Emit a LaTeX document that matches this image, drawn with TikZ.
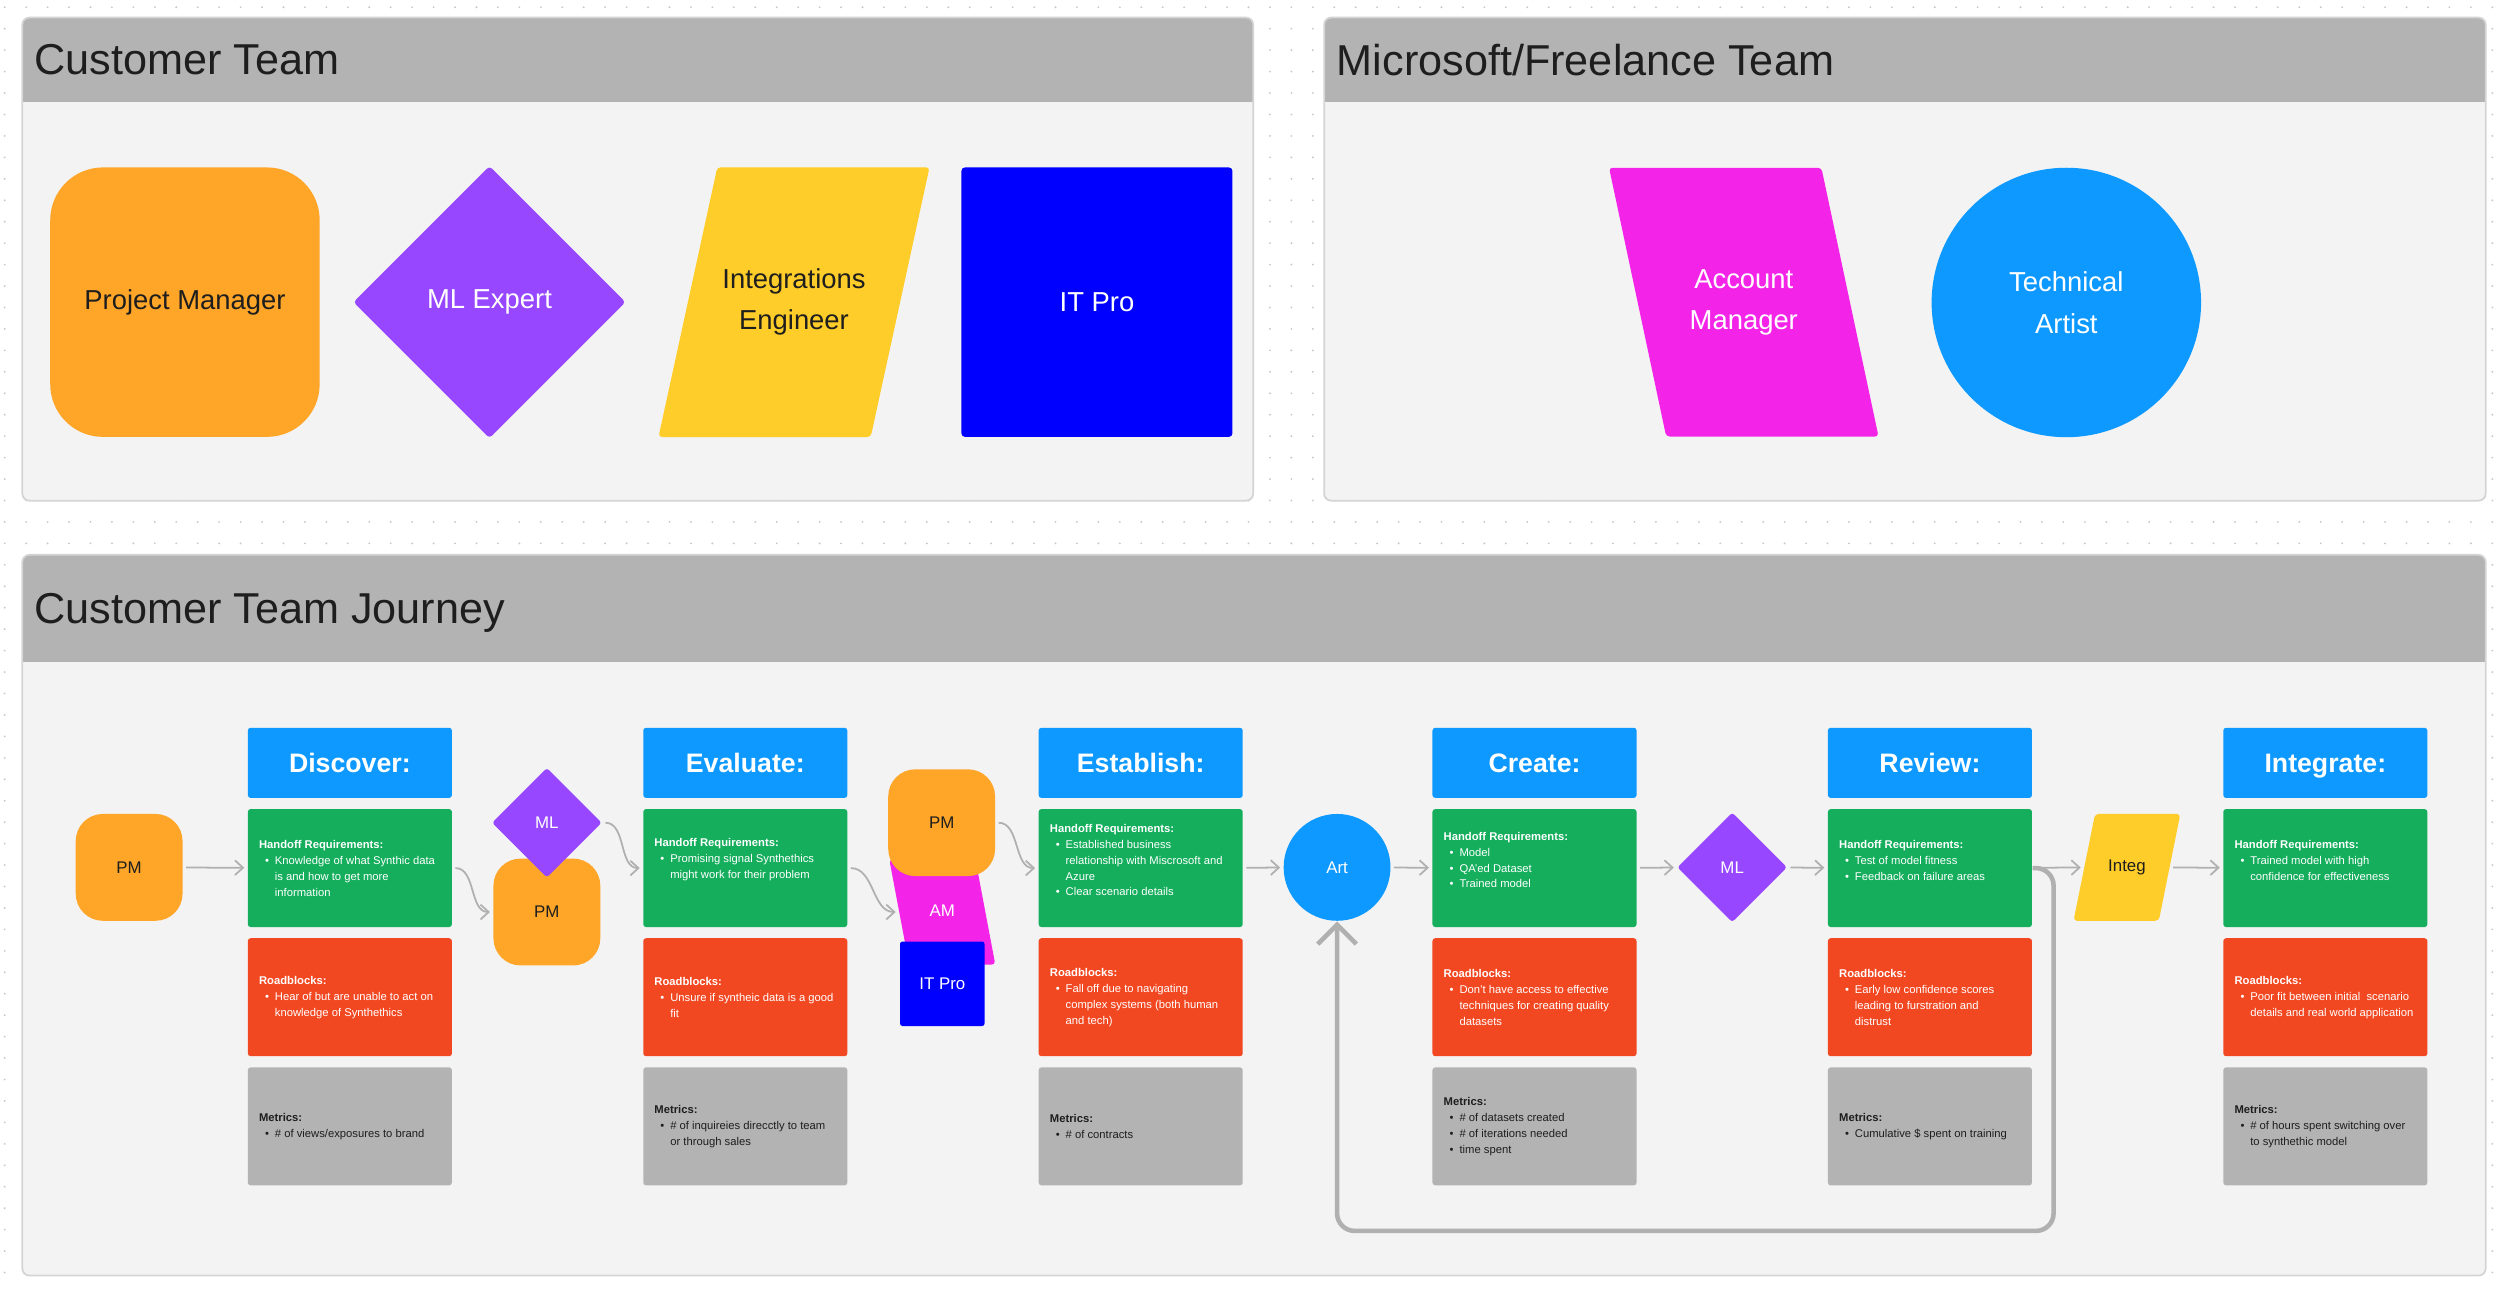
\documentclass[tikz,border=0pt]{standalone}
\usepackage{fontspec}
\setmainfont{Liberation Sans}
\usetikzlibrary{positioning,shapes.geometric,arrows.meta}

\definecolor{pmorange}{HTML}{FFA629}
\definecolor{mlpurple}{HTML}{9747FF}
\definecolor{intyellow}{HTML}{FFCD29}
\definecolor{itblue}{HTML}{0000FF}
\definecolor{ampink}{HTML}{F324E8}
\definecolor{artblue}{HTML}{0D99FF}
\definecolor{hogreen}{HTML}{14AE5C}
\definecolor{rbred}{HTML}{F24822}
\definecolor{mtgray}{HTML}{B3B3B3}
\definecolor{hdrgray}{HTML}{B3B3B3}
\definecolor{panelbg}{HTML}{F3F3F3}
\definecolor{panelline}{HTML}{D4D4D4}
\definecolor{dotgray}{HTML}{C8C8C8}
\definecolor{linegray}{HTML}{B0B0B0}
\definecolor{textdark}{HTML}{1E1E1E}

\newcommand\dpx{*0.4537pt}
\newcommand\bitem{\hspace*{1.7pt}\makebox[2.8pt][l]{\textbullet}}
\newcommand\bcont{\hspace*{4.5pt}}

\begin{document}
\begin{tikzpicture}[x=0.4537pt, y=-0.4537pt,
  title/.style={anchor=base west, inner sep=0pt, text=textdark, font=\fontsize{12.3}{14}\selectfont},
  bigshape/.style={inner sep=0pt, align=center, font=\fontsize{7.8}{11.8}\selectfont, minimum width=169\dpx, minimum height=169\dpx},
  actor/.style={inner sep=0pt, font=\fontsize{4.8}{6}\selectfont, minimum width=67\dpx, minimum height=67\dpx},
  parallel/.style={trapezium, trapezium stretches body=true, rounded corners=1pt, minimum height=0pt},
  stagehdr/.style={anchor=north west, inner sep=0pt, fill=artblue, text=white, rounded corners=0.8pt,
    font=\fontsize{7.6}{9}\selectfont\bfseries, text height=5.45pt, text depth=0pt,
    minimum width=128\dpx, minimum height=44\dpx},
  stagebox/.style={anchor=north west, inner sep=0pt, rounded corners=0.8pt, minimum width=128\dpx, minimum height=74\dpx},
  handoff/.style={stagebox, fill=hogreen},
  roadblock/.style={stagebox, fill=rbred},
  metric/.style={stagebox, fill=mtgray},
  boxtext/.style={inner sep=0pt, align=left, text=white, font=\fontsize{3.2}{4.55}\selectfont},
  flow/.style={draw=linegray, line width=0.5pt, shorten >=0.8pt, shorten <=0.8pt,
    -{Straight Barb[length=2.3pt,width=4.2pt]}},
  loopline/.style={draw=linegray, line width=1.3pt, rounded corners=5pt,
    -{Straight Barb[length=5.5pt,width=11pt]}}]

\useasboundingbox (0,0) rectangle (1568,809);
\fill[white] (0,0) rectangle (1568,809);

% dotted canvas
\foreach \j in {0,...,59}
  \fill[dotgray] \foreach \i in {0,...,116} {(2.95+13.45*\i,4.55+13.45*\j) circle (0.65)};

% panels
\foreach \xa/\ya/\xb/\yb/\yh in {14/11/786/314/64, 830.5/11/1559/314/64, 14/348/1559/800/415}{
  \fill[panelbg, rounded corners=2pt] (\xa,\ya) rectangle (\xb,\yb);
  \begin{scope}
    \clip[rounded corners=2pt] (\xa,\ya) rectangle (\xb,\yb);
    \fill[hdrgray] (\xa,\ya) rectangle (\xb,\yh);
  \end{scope}
  \draw[panelline, line width=0.5pt, rounded corners=2pt] (\xa,\ya) rectangle (\xb,\yb);
}
\node[title] (custTitle) at (21,47) {Customer Team};
\node[title] (msTitle) at (838,47.5) {Microsoft/Freelance Team};
\node[title] (journeyTitle) at (21,391) {Customer Team Journey};

% customer team
\node[bigshape, fill=pmorange, text=textdark, rounded corners=15pt] (projMgr) at (116,189.5) {Project Manager};
\node[bigshape, diamond, fill=mlpurple, text=white, rounded corners=1pt, minimum width=171\dpx, minimum height=171\dpx] (mlExpert) at (307,189.5) {ML Expert};
\node[bigshape, parallel, trapezium left angle=77.7, trapezium right angle=102.3, fill=intyellow, text=textdark,
  inner ysep=28.85pt, minimum width=170\dpx] (intEng) at (498,189.5) {Integrations\\Engineer};
\node[bigshape, fill=itblue, text=white, rounded corners=1pt, minimum width=170\dpx] (itPro) at (688,189.5) {IT Pro};

% microsoft / freelance team
\node[bigshape, parallel, trapezium left angle=102, trapezium right angle=78, fill=ampink, text=white,
  inner ysep=28.85pt, minimum width=169\dpx] (acctMgr) at (1093.7,189.5) {Account\\Manager};
\node[bigshape, circle, fill=artblue, text=white] (techArtist) at (1296,189.7) {Technical\\Artist};

% journey stages
\node[stagehdr] (discHdr) at (155,456) {Discover:};
\node[handoff] (discHO) at (155,507) {};
\node[roadblock] (discRB) at (155,588) {};
\node[metric] (discMT) at (155,669) {};

\node[stagehdr] (evalHdr) at (403,456) {Evaluate:};
\node[handoff] (evalHO) at (403,507) {};
\node[roadblock] (evalRB) at (403,588) {};
\node[metric] (evalMT) at (403,669) {};

\node[stagehdr] (estHdr) at (651,456) {Establish:};
\node[handoff] (estHO) at (651,507) {};
\node[roadblock] (estRB) at (651,588) {};
\node[metric] (estMT) at (651,669) {};

\node[stagehdr] (creHdr) at (898,456) {Create:};
\node[handoff] (creHO) at (898,507) {};
\node[roadblock] (creRB) at (898,588) {};
\node[metric] (creMT) at (898,669) {};

\node[stagehdr] (revHdr) at (1146,456) {Review:};
\node[handoff] (revHO) at (1146,507) {};
\node[roadblock] (revRB) at (1146,588) {};
\node[metric] (revMT) at (1146,669) {};

\node[stagehdr] (intHdr) at (1394,456) {Integrate:};
\node[handoff] (intHO) at (1394,507) {};
\node[roadblock] (intRB) at (1394,588) {};
\node[metric] (intMT) at (1394,669) {};

% stage texts
\node[boxtext, right=3.2pt of discHO.west] (discHOt) {\textbf{Handoff Requirements:}\\ \bitem Knowledge of what Synthic data\\ \bcont is and how to get more\\ \bcont information};
\node[boxtext, right=3.2pt of discRB.west] (discRBt) {\textbf{Roadblocks:}\\ \bitem Hear of but are unable to act on\\ \bcont knowledge of Synthethics};
\node[boxtext, text=textdark, right=3.2pt of discMT.west] (discMTt) {\textbf{Metrics:}\\ \bitem \# of views/exposures to brand};

\node[boxtext, yshift=2.3pt, right=3.2pt of evalHO.west] (evalHOt) {\textbf{Handoff Requirements:}\\ \bitem Promising signal Synthethics\\ \bcont might work for their problem};
\node[boxtext, right=3.2pt of evalRB.west] (evalRBt) {\textbf{Roadblocks:}\\ \bitem Unsure if syntheic data is a good\\ \bcont fit};
\node[boxtext, text=textdark, right=3.2pt of evalMT.west] (evalMTt) {\textbf{Metrics:}\\ \bitem \# of inquireies direcctly to team\\ \bcont or through sales};

\node[boxtext, yshift=2.3pt, right=3.2pt of estHO.west] (estHOt) {\textbf{Handoff Requirements:}\\ \bitem Established business\\ \bcont relationship with Miscrosoft and\\ \bcont Azure\\ \bitem Clear scenario details};
\node[boxtext, right=3.2pt of estRB.west] (estRBt) {\textbf{Roadblocks:}\\ \bitem Fall off due to navigating\\ \bcont complex systems (both human\\ \bcont and tech)};
\node[boxtext, text=textdark, right=3.2pt of estMT.west] (estMTt) {\textbf{Metrics:}\\ \bitem \# of contracts};

\node[boxtext, yshift=2.3pt, right=3.2pt of creHO.west] (creHOt) {\textbf{Handoff Requirements:}\\ \bitem Model\\ \bitem QA'ed Dataset\\ \bitem Trained model};
\node[boxtext, right=3.2pt of creRB.west] (creRBt) {\textbf{Roadblocks:}\\ \bitem Don't have access to effective\\ \bcont techniques for creating quality\\ \bcont datasets};
\node[boxtext, text=textdark, right=3.2pt of creMT.west] (creMTt) {\textbf{Metrics:}\\ \bitem \# of datasets created\\ \bitem \# of iterations needed\\ \bitem time spent};

\node[boxtext, yshift=2.3pt, right=3.2pt of revHO.west] (revHOt) {\textbf{Handoff Requirements:}\\ \bitem Test of model fitness\\ \bitem Feedback on failure areas};
\node[boxtext, right=3.2pt of revRB.west] (revRBt) {\textbf{Roadblocks:}\\ \bitem Early low confidence scores\\ \bcont leading to furstration and\\ \bcont distrust};
\node[boxtext, text=textdark, right=3.2pt of revMT.west] (revMTt) {\textbf{Metrics:}\\ \bitem Cumulative \$ spent on training};

\node[boxtext, yshift=2.3pt, right=3.2pt of intHO.west] (intHOt) {\textbf{Handoff Requirements:}\\ \bitem Trained model with high\\ \bcont confidence for effectiveness};
\node[boxtext, right=3.2pt of intRB.west] (intRBt) {\textbf{Roadblocks:}\\ \bitem Poor fit between initial\ \ scenario\\ \bcont details and real world application};
\node[boxtext, text=textdark, right=3.2pt of intMT.west] (intMTt) {\textbf{Metrics:}\\ \bitem \# of hours spent switching over\\ \bcont to synthethic model};

% who hands off
\node[actor, fill=pmorange, text=textdark, rounded corners=7.7pt] (pmA) at (81,544) {PM};
\node[actor, fill=pmorange, text=textdark, rounded corners=7.7pt] (pmB) at (343,572) {PM};
\node[actor, diamond, fill=mlpurple, text=white, rounded corners=0.8pt, minimum width=69\dpx, minimum height=69\dpx] (mlA) at (343,516) {ML};
\node[actor, parallel, trapezium left angle=100.7, trapezium right angle=79.3, fill=ampink, text=white,
  text height=3.44pt, text depth=1pt, inner ysep=12.75pt, minimum width=66.5\dpx] (amA) at (591,572) {AM};
\node[actor, fill=pmorange, text=textdark, rounded corners=7.7pt] (pmC) at (590.6,516) {PM};
\node[actor, fill=itblue, text=white, rounded corners=0.7pt, minimum width=53\dpx, minimum height=53\dpx] (itA) at (591,617) {IT Pro};
\node[actor, circle, fill=artblue, text=white] (artA) at (838.6,544) {Art};
\node[actor, diamond, fill=mlpurple, text=white, rounded corners=0.8pt, minimum width=69\dpx, minimum height=69\dpx] (mlB) at (1086.4,544) {ML};
\node[actor, parallel, trapezium left angle=78.6, trapezium right angle=101.4, fill=intyellow, text=textdark,
  text height=3.44pt, text depth=1pt, inner ysep=12.98pt, minimum width=67\dpx] (intA) at (1334,544) {Integ};

% connectors
\coordinate (loopCorner) at (1288,772);
\draw[loopline] (revHO.east) -| (loopCorner) -| (artA.south);

\draw[flow] (pmA) -- (discHO);
\draw[flow] (discHO.east) to[out=0,in=180] (pmB.west);
\draw[flow] (mlA.east) to[out=0,in=180] (evalHO.west);
\draw[flow] (evalHO.east) to[out=0,in=180] (amA.west);
\draw[flow] (pmC.east) to[out=0,in=180] (estHO.west);
\draw[flow] (estHO) -- (artA);
\draw[flow] (artA) -- (creHO);
\draw[flow] (creHO) -- (mlB);
\draw[flow] (mlB) -- (revHO);
\draw[flow] (revHO) -- (intA);
\draw[flow] (intA) -- (intHO);
\end{tikzpicture}
\end{document}
